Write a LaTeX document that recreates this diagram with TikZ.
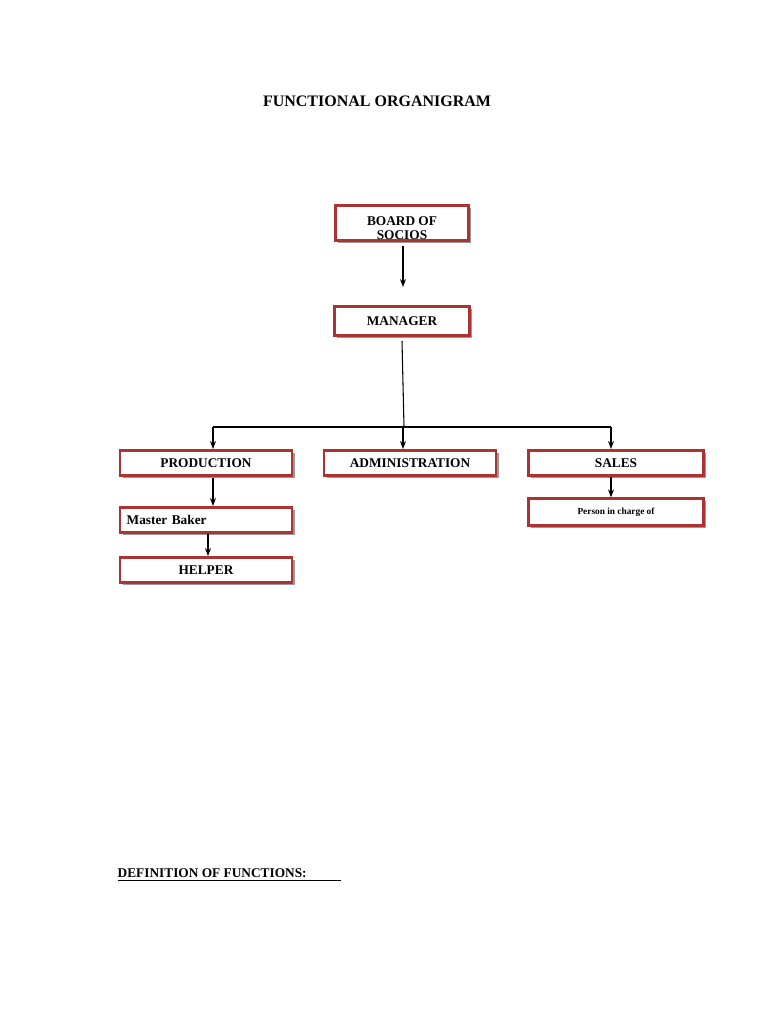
\documentclass[tikz,border=0pt]{standalone}
\usepackage{fontspec}
\setmainfont{Liberation Serif}
\usetikzlibrary{arrows.meta,positioning,shadows}

\begin{document}
\begin{tikzpicture}[x=0.75pt,y=-0.75pt,
    % boxes of the chart
    unit/.style={draw=red!60!black!80, line width=2pt, fill=white,
      drop shadow={shadow xshift=2pt, shadow yshift=-2pt, fill=black!40, opacity=1},
      inner sep=0pt, font=\bfseries\fontsize{10}{12}\selectfont},
    link/.style={draw, thick, -{Stealth[length=6pt]}},
  ]
  \useasboundingbox (0,0) rectangle (768,1024);

  \node[font=\bfseries\fontsize{12}{14}\selectfont] (title) at (377,101) {FUNCTIONAL ORGANIGRAM};

  % top of the chart
  \node[unit, minimum width=100pt, minimum height=26pt] (board) at (402,223) {};
  \begin{scope}
    \clip (336,207) rectangle (468,240);
    \node[font=\bfseries\fontsize{10}{12}\selectfont, align=center] at (402,228) {BOARD OF\\[-1pt]SOCIOS};
  \end{scope}
  \node[unit, minimum width=101pt, minimum height=22pt] (manager) at (402,321) {MANAGER};

  % departments
  \node[unit, minimum width=129pt, minimum height=19pt] (production) at (206,463) {PRODUCTION};
  \node[unit, minimum width=129pt, minimum height=19pt] (admin) at (410,463) {ADMINISTRATION};
  \node[unit, minimum width=131pt, minimum height=19pt] (sales) at (616,463) {SALES};

  \node[unit, minimum width=129pt, minimum height=19pt, text width=119pt, align=left] (baker) at (206,520) {Master Baker};
  \node[unit, minimum width=129pt, minimum height=19pt] (helper) at (206,570) {HELPER};
  \node[unit, minimum width=131pt, minimum height=20pt, font=\bfseries\fontsize{7}{8}\selectfont] (person) at (616,512) {Person in charge of};

  % connectors
  \coordinate (boardend) at (403,287);
  \draw[link] (board.south) ++(1,4) -- (boardend);
  \coordinate (bus) at (404,427);
  \draw[thick] ([yshift=-3pt]manager.south) -- (bus);
  \draw[thick] (213,427) -- (611,427);
  \foreach \d/\x in {production/213, admin/403, sales/611}
    \draw[link] (\x,427) -- (\x,449);
  \draw[link] (213,478) -- (baker.north -| 213,0);
  \draw[link] (208,534) -- (helper.north -| 208,0);
  \draw[link] (611,477) -- (person.north -| 611,0);

  % footer
  \node[anchor=west, font=\bfseries\fontsize{10}{12}\selectfont] (defs) at (113,875) {\underline{DEFINITION OF FUNCTIONS:\hspace{26pt}}};
\end{tikzpicture}
\end{document}
